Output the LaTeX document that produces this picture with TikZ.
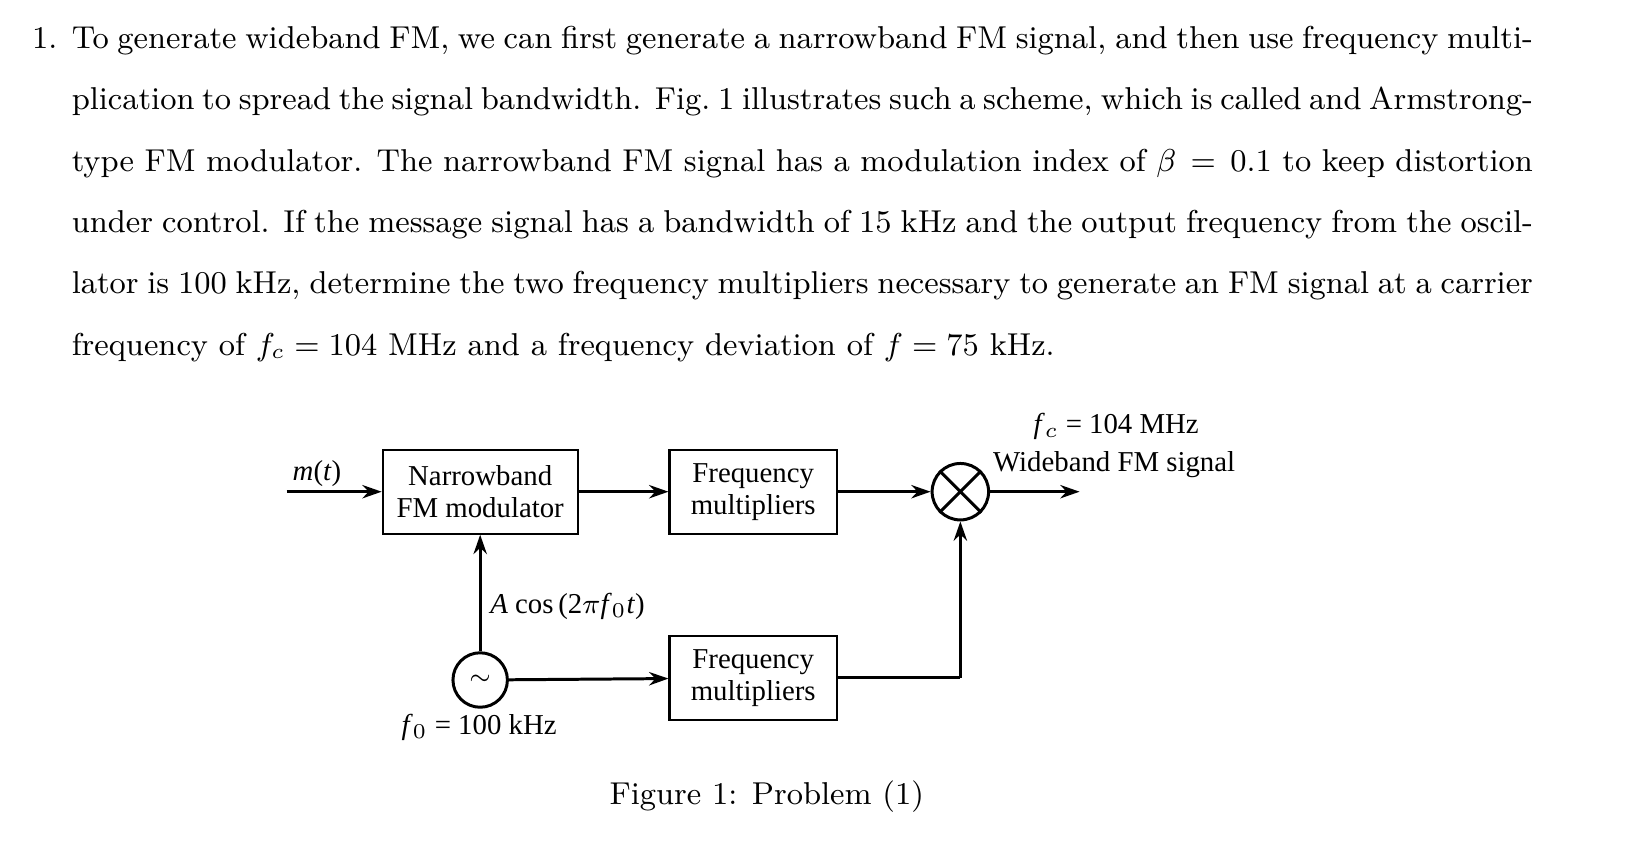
\documentclass[tikz,border=0pt]{standalone}
\usepackage{fontspec}
\newfontfamily\diag{Liberation Serif}
\usetikzlibrary{arrows.meta}
\begin{document}
\begin{tikzpicture}[x=0.01046cm,y=-0.01046cm,
  lab/.style={font=\diag\fontsize{8.2}{9.1}\selectfont,inner sep=0pt},
  blk/.style={draw,line width=0.6pt,align=center,inner sep=0pt,lab},
  con/.style={line width=0.85pt,-{Stealth[length=5.5pt,width=3.8pt]}},
  ln/.style={line width=0.85pt}]
\useasboundingbox (0,0) rectangle (1560,809);
\node[anchor=north west,inner sep=0pt] (t) at (30,24) {\fontsize{9}{17.5}\selectfont
\begin{minipage}[t]{15.5cm}\setlength{\parindent}{0pt}%
\makebox[0.397cm][l]{1.}\parbox[t]{14.62cm}{To generate wideband FM, we can first generate a narrowband FM signal, and then use frequency multi-\linebreak
plication to spread the signal bandwidth.  Fig.\ 1 illustrates such a scheme, which is called and Armstrong-\linebreak
type FM modulator.  The narrowband FM signal has a modulation index of $\beta\,=\,0.1$ to keep distortion\linebreak
under control. If the message signal has a bandwidth of 15 kHz and the output frequency from the oscil-\linebreak
lator is 100 kHz, determine the two frequency multipliers necessary to generate an FM signal at a carrier\linebreak
frequency of $f_c = 104$ MHz and a frequency deviation of $f = 75$ kHz.}
\end{minipage}};
\node[blk,minimum width=1.95cm,minimum height=0.84cm] (nb) at (459,470) {Narrowband\\FM modulator};
\node[blk,minimum width=1.675cm,minimum height=0.84cm] (fm1) at (720,470) {Frequency\\multipliers};
\node[blk,minimum width=1.675cm,minimum height=0.84cm] (fm2) at (720,648) {Frequency\\multipliers};
\node[draw,circle,line width=0.85pt,minimum size=0.565cm,inner sep=0pt] (mx) at (918,470) {};
\draw[line width=0.85pt] (mx.north west)--(mx.south east) (mx.north east)--(mx.south west);
\node[draw,circle,line width=0.85pt,minimum size=0.545cm,inner sep=0pt,font=\scriptsize] (osc) at (459,650) {$\sim$};
\coordinate (min) at (274,470);
\coordinate (out) at (1032,470);
\coordinate (cr) at (918,648);
\draw[con] (min) -- (nb);
\draw[con] (nb) -- (fm1);
\draw[con] (fm1) -- (mx);
\draw[con] (mx) -- (out);
\draw[con] (osc) -- (nb);
\draw[con] (osc) -- (fm2);
\draw[ln] (fm2.east) -- (cr);
\draw[con] (cr) -- (mx);
\node[lab] (ml) at (303,453) {\textit{m}(\textit{t})};
\node[lab,anchor=west] (al) at (468,580) {\textit{A} cos\,(2$\pi$\textit{f}$_0$\textit{t})};
\node[lab] (fl) at (458,695) {\textit{f}$_0$ = 100 kHz};
\node[lab] (fcl) at (1067,408) {\textit{f}$_c$ = 104 MHz};
\node[lab] (wl) at (1065,444) {Wideband FM signal};
\node[font=\fontsize{9}{10}\selectfont] (cap) at (733,761) {Figure 1: Problem (1)};
\end{tikzpicture}
\end{document}
